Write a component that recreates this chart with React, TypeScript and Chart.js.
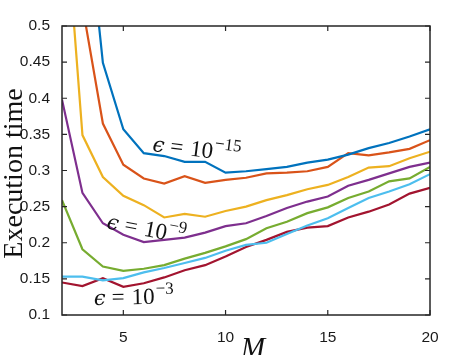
import React, { useEffect, useRef } from "react";
import { Chart, registerables } from "chart.js";

Chart.register(...registerables);

const mValues = [2, 3, 4, 5, 6, 7, 8, 9, 10, 11, 12, 13, 14, 15, 16, 17, 18, 19, 20];

const eps15 = [1.0, 0.72, 0.449, 0.357, 0.324, 0.32, 0.312, 0.312, 0.297, 0.299, 0.302, 0.305, 0.311, 0.315, 0.322, 0.331, 0.338, 0.347, 0.357];
const eps13 = [0.8, 0.528, 0.365, 0.308, 0.289, 0.282, 0.292, 0.283, 0.287, 0.29, 0.296, 0.297, 0.299, 0.305, 0.324, 0.321, 0.325, 0.33, 0.342];
const eps11 = [0.72, 0.349, 0.291, 0.265, 0.252, 0.235, 0.24, 0.236, 0.244, 0.25, 0.259, 0.266, 0.274, 0.28, 0.291, 0.304, 0.306, 0.317, 0.326];
const eps9 = [0.398, 0.269, 0.227, 0.211, 0.201, 0.204, 0.207, 0.214, 0.223, 0.227, 0.237, 0.248, 0.257, 0.264, 0.279, 0.287, 0.296, 0.305, 0.311];
const eps7 = [0.259, 0.191, 0.167, 0.161, 0.164, 0.169, 0.178, 0.186, 0.195, 0.205, 0.22, 0.229, 0.241, 0.249, 0.262, 0.271, 0.285, 0.289, 0.305];
const eps5 = [0.153, 0.153, 0.148, 0.151, 0.159, 0.165, 0.172, 0.179, 0.189, 0.197, 0.2, 0.212, 0.224, 0.234, 0.248, 0.262, 0.271, 0.281, 0.295];
const eps3 = [0.145, 0.14, 0.151, 0.139, 0.144, 0.152, 0.162, 0.169, 0.181, 0.194, 0.204, 0.215, 0.221, 0.223, 0.235, 0.243, 0.253, 0.268, 0.276];

const seriesLabels = ["ε = 1e-15", "ε = 1e-13", "ε = 1e-11", "ε = 1e-9", "ε = 1e-7", "ε = 1e-5", "ε = 1e-3"];
const seriesColors = ["#0072BD", "#D95319", "#EDB120", "#7E2F8E", "#77AC30", "#4DBEEE", "#A2142F"];

const xTicks = [5, 10, 15, 20];
const yTicks = [0.1, 0.15, 0.2, 0.25, 0.3, 0.35, 0.4, 0.45, 0.5];

const xTitle = "M";
const yTitle = "Execution time";

// annotation anchors in data space
const annotM = [6.4, 4.15, 3.57];
const annotV = [0.327, 0.22, 0.114];
const annotExp = ["−15", "−9", "−3"];
const annotAngle = [7, 11, -1];

const framePlugin = {
  id: "frame",
  afterDatasetsDraw(chart: any) {
    const ctx: CanvasRenderingContext2D = chart.ctx;
    const xs = chart.scales.x;
    const ys = chart.scales.y;
    const L = xs.getPixelForValue(2);
    const R = xs.getPixelForValue(20);
    const T = ys.getPixelForValue(0.5);
    const B = ys.getPixelForValue(0.1);
    ctx.save();
    ctx.strokeStyle = "#262626";
    ctx.lineWidth = 1.5;
    ctx.strokeRect(L, T, R - L, B - T);
    const tl = 5;
    ctx.lineWidth = 1.2;
    ctx.beginPath();
    xTicks.forEach((v) => {
      const px = xs.getPixelForValue(v);
      ctx.moveTo(px, B);
      ctx.lineTo(px, B - tl);
      ctx.moveTo(px, T);
      ctx.lineTo(px, T + tl);
    });
    yTicks.forEach((v) => {
      const py = ys.getPixelForValue(v);
      ctx.moveTo(L, py);
      ctx.lineTo(L + tl, py);
      ctx.moveTo(R, py);
      ctx.lineTo(R - tl, py);
    });
    ctx.stroke();
    ctx.restore();
  },
  afterDraw(chart: any) {
    const ctx: CanvasRenderingContext2D = chart.ctx;
    const area = chart.chartArea;
    const xs = chart.scales.x;
    const ys = chart.scales.y;
    ctx.save();
    ctx.fillStyle = "#111";
    for (let i = 0; i < annotM.length; i++) {
      const x = xs.getPixelForValue(annotM[i]);
      const y = ys.getPixelForValue(annotV[i]);
      ctx.save();
      ctx.translate(x, y);
      ctx.rotate((annotAngle[i] * Math.PI) / 180);
      ctx.textBaseline = "alphabetic";
      ctx.textAlign = "left";
      ctx.font = 'italic 21px "DejaVu Serif", "Liberation Serif"';
      let cx = 0;
      ctx.fillText("ϵ", cx, 0);
      cx += ctx.measureText("ϵ").width + 6;
      ctx.font = '23px "Liberation Serif", "DejaVu Serif"';
      ctx.fillText("=", cx, 0);
      cx += ctx.measureText("=").width + 7;
      ctx.fillText("10", cx, 0);
      cx += ctx.measureText("10").width + 1;
      ctx.font = '17px "Liberation Serif", "DejaVu Serif"';
      ctx.fillText(annotExp[i], cx, -10);
      ctx.restore();
    }
    ctx.font = '28px "Liberation Serif", "DejaVu Serif"';
    ctx.textAlign = "center";
    ctx.textBaseline = "alphabetic";
    ctx.save();
    ctx.translate(22, (area.top + area.bottom) / 2 + 3);
    ctx.rotate(-Math.PI / 2);
    ctx.fillText(yTitle, 0, 0);
    ctx.restore();
    ctx.font = 'italic 29px "Liberation Serif", "DejaVu Serif"';
    ctx.fillText(xTitle, (area.left + area.right) / 2 + 7, 357);
    ctx.restore();
  },
};

export default function App() {
  const ref = useRef<HTMLCanvasElement | null>(null);
  useEffect(() => {
    document.body.style.margin = "0";
    const canvas = ref.current;
    if (!canvas) return;
    const all = [eps15, eps13, eps11, eps9, eps7, eps5, eps3];
    const chart = new Chart(canvas, {
      type: "line",
      data: {
        labels: mValues,
        datasets: all.map((d, i) => ({
          label: seriesLabels[i],
          data: d.map((v, j) => ({ x: mValues[j], y: v })),
          borderColor: seriesColors[i],
          backgroundColor: seriesColors[i],
          borderWidth: 2.2,
          pointRadius: 0,
          tension: 0,
          fill: false,
        })),
      },
      options: {
        responsive: false,
        animation: false,
        devicePixelRatio: 1,
        layout: { padding: { left: 0, top: 26, right: 44, bottom: 0 } },
        plugins: { legend: { display: false }, tooltip: { enabled: false } },
        scales: {
          x: {
            type: "linear",
            min: 2,
            max: 20,
            afterBuildTicks: (s: any) => {
              s.ticks = xTicks.map((v) => ({ value: v }));
            },
            afterFit: (s: any) => {
              s.height = 40;
            },
            grid: { display: false },
            border: { display: false },
            ticks: {
              autoSkip: false,
              maxRotation: 0,
              padding: 5,
              color: "#1a1a1a",
              font: { family: '"Liberation Sans", Arial, sans-serif', size: 15.5 },
              callback: (v: any) => String(v),
            },
          },
          y: {
            type: "linear",
            min: 0.1,
            max: 0.5,
            afterBuildTicks: (s: any) => {
              s.ticks = yTicks.map((v) => ({ value: v }));
            },
            afterFit: (s: any) => {
              s.width = 62;
            },
            grid: { display: false },
            border: { display: false },
            ticks: {
              autoSkip: false,
              padding: 4,
              color: "#1a1a1a",
              font: { family: '"Liberation Sans", Arial, sans-serif', size: 15.5 },
              callback: (v: any) => String(Number(Number(v).toFixed(2))),
            },
          },
        },
      },
      plugins: [framePlugin],
    });
    return () => chart.destroy();
  }, []);
  return (
    <div style={{ position: "relative", width: 474, height: 355 }}>
      <canvas ref={ref} width={474} height={355} style={{ display: "block" }} />
    </div>
  );
}
